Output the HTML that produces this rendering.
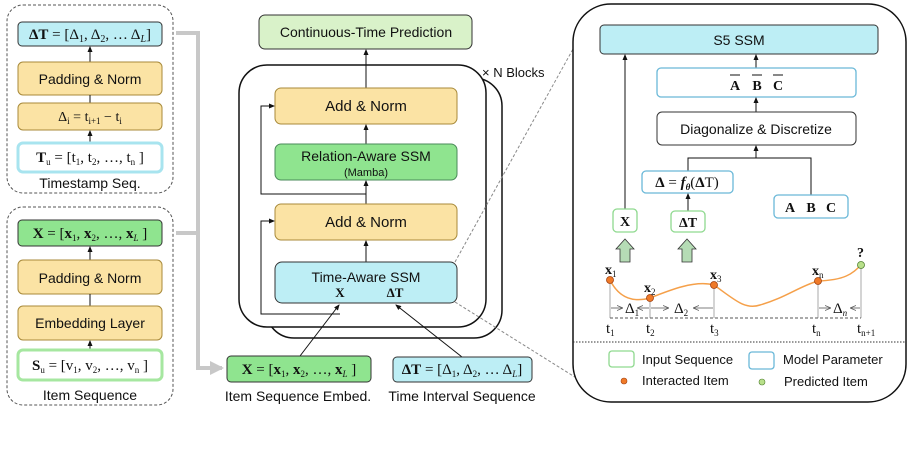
<!DOCTYPE html>
<html><head><meta charset="utf-8"><style>
html,body{margin:0;padding:0;background:#fff;}
svg{display:block;}
text{font-family:"Liberation Sans","DejaVu Sans",sans-serif;fill:#111;}
text.m,.m text{font-family:"Liberation Serif","DejaVu Serif",serif;}
</style></head><body>
<svg width="913" height="450" viewBox="0 0 913 450" xmlns="http://www.w3.org/2000/svg">
<defs>
<marker id="a" markerWidth="6" markerHeight="6" refX="5" refY="3" orient="auto" markerUnits="userSpaceOnUse"><path d="M0,0.5 L6,3 L0,5.5z" fill="#111"/></marker>
<marker id="ag" markerWidth="14" markerHeight="14" refX="12" refY="7" orient="auto" markerUnits="userSpaceOnUse"><path d="M0,0 L14,7 L0,14z" fill="#c8c8c8"/></marker>
<marker id="as" markerWidth="6" markerHeight="6" refX="5" refY="3" orient="auto" markerUnits="userSpaceOnUse"><path d="M0,0.5 L6,3 L0,5.5" fill="none" stroke="#555" stroke-width="0.8"/></marker>
</defs>

<!-- LEFT PANEL -->
<rect x="7" y="5" width="166" height="188" rx="16" fill="none" stroke="#555" stroke-dasharray="3,2"/>
<rect x="18" y="22" width="144" height="24" rx="4" fill="#bdeef5" stroke="#333"/>
<text x="90" y="39" text-anchor="middle" class="m" font-size="15"><tspan font-weight="bold">ΔT</tspan> = [Δ<tspan font-size="10" dy="3">1</tspan><tspan dy="-3">, Δ</tspan><tspan font-size="10" dy="3">2</tspan><tspan dy="-3">, … Δ</tspan><tspan font-size="10" dy="3" font-style="italic">L</tspan><tspan dy="-3">]</tspan></text>
<line x1="90" y1="62" x2="90" y2="47" stroke="#111" marker-end="url(#a)"/>
<rect x="18" y="62" width="144" height="33" rx="5" fill="#fbe3a4" stroke="#a88a3a"/>
<text x="90" y="84" text-anchor="middle" font-size="14">Padding &amp; Norm</text>
<line x1="90" y1="103" x2="90" y2="95" stroke="#111"/>
<rect x="18" y="103" width="144" height="27" rx="5" fill="#fbe3a4" stroke="#a88a3a"/>
<text x="90" y="121" text-anchor="middle" class="m" font-size="14">Δ<tspan font-size="9" dy="3">i</tspan><tspan dy="-3"> = t</tspan><tspan font-size="9" dy="3">i+1</tspan><tspan dy="-3"> − t</tspan><tspan font-size="9" dy="3">i</tspan></text>
<line x1="90" y1="143" x2="90" y2="131" stroke="#111" marker-end="url(#a)"/>
<rect x="18" y="143" width="144" height="29" rx="5" fill="#fff" stroke="#a8e4ef" stroke-width="3"/>
<text x="90" y="162" text-anchor="middle" class="m" font-size="15"><tspan font-weight="bold">T</tspan><tspan font-size="9" dy="3">u</tspan><tspan dy="-3"> = [t</tspan><tspan font-size="9" dy="3">1</tspan><tspan dy="-3">, t</tspan><tspan font-size="9" dy="3">2</tspan><tspan dy="-3">, …, t</tspan><tspan font-size="9" dy="3">n</tspan><tspan dy="-3"> ]</tspan></text>
<text x="90" y="188" text-anchor="middle" font-size="14">Timestamp Seq.</text>

<rect x="7" y="207" width="166" height="198" rx="16" fill="none" stroke="#555" stroke-dasharray="3,2"/>
<rect x="18" y="220" width="144" height="26" rx="4" fill="#8fe48f" stroke="#333"/>
<text x="90" y="238" text-anchor="middle" class="m" font-size="15"><tspan font-weight="bold">X</tspan> = [<tspan font-weight="bold">x</tspan><tspan font-size="9" dy="3">1</tspan><tspan dy="-3">, </tspan><tspan font-weight="bold">x</tspan><tspan font-size="9" dy="3">2</tspan><tspan dy="-3">, …, </tspan><tspan font-weight="bold">x</tspan><tspan font-size="9" dy="3" font-style="italic">L</tspan><tspan dy="-3"> ]</tspan></text>
<line x1="90" y1="260" x2="90" y2="247" stroke="#111" marker-end="url(#a)"/>
<rect x="18" y="260" width="144" height="34" rx="5" fill="#fbe3a4" stroke="#a88a3a"/>
<text x="90" y="283" text-anchor="middle" font-size="14">Padding &amp; Norm</text>
<line x1="90" y1="306" x2="90" y2="294" stroke="#111"/>
<rect x="18" y="306" width="144" height="34" rx="5" fill="#fbe3a4" stroke="#a88a3a"/>
<text x="90" y="328" text-anchor="middle" font-size="14">Embedding Layer</text>
<line x1="90" y1="350" x2="90" y2="341" stroke="#111" marker-end="url(#a)"/>
<rect x="18" y="350" width="144" height="30" rx="5" fill="#fff" stroke="#a6e7a0" stroke-width="3"/>
<text x="90" y="370" text-anchor="middle" class="m" font-size="15"><tspan font-weight="bold">S</tspan><tspan font-size="9" dy="3">u</tspan><tspan dy="-3"> = [v</tspan><tspan font-size="9" dy="3">1</tspan><tspan dy="-3">, v</tspan><tspan font-size="9" dy="3">2</tspan><tspan dy="-3">, …, v</tspan><tspan font-size="9" dy="3">n</tspan><tspan dy="-3"> ]</tspan></text>
<text x="90" y="400" text-anchor="middle" font-size="14">Item Sequence</text>

<polyline points="176,33 198,33 198,368 222,368" fill="none" stroke="#c8c8c8" stroke-width="4" marker-end="url(#ag)"/>
<line x1="176" y1="233" x2="198" y2="233" stroke="#c8c8c8" stroke-width="4"/>

<!-- CENTER -->
<rect x="259" y="15" width="213" height="34" rx="6" fill="#d9f2c9" stroke="#333"/>
<text x="366" y="37" text-anchor="middle" font-size="14">Continuous-Time Prediction</text>
<rect x="266" y="78" width="236" height="260" rx="28" fill="#fff" stroke="#111" stroke-width="1.5"/>
<rect x="239" y="65" width="247" height="262" rx="28" fill="#fff" stroke="#111" stroke-width="1.5"/>
<text x="482" y="77" font-size="13">× N Blocks</text>
<line x1="366" y1="88" x2="366" y2="50" stroke="#111" marker-end="url(#a)"/>
<rect x="275" y="88" width="182" height="36" rx="6" fill="#fbe3a4" stroke="#a88a3a"/>
<text x="366" y="111" text-anchor="middle" font-size="15">Add &amp; Norm</text>
<line x1="366" y1="144" x2="366" y2="125" stroke="#111" marker-end="url(#a)"/>
<rect x="275" y="144" width="182" height="36" rx="6" fill="#8fe48f" stroke="#4a8a5a"/>
<text x="366" y="161" text-anchor="middle" font-size="14">Relation-Aware SSM</text>
<text x="366" y="176" text-anchor="middle" font-size="11">(Mamba)</text>
<line x1="366" y1="204" x2="366" y2="181" stroke="#111" marker-end="url(#a)"/>
<polyline points="366,194 261,194 261,106 274,106" fill="none" stroke="#111" marker-end="url(#a)"/>
<rect x="275" y="204" width="182" height="36" rx="6" fill="#fbe3a4" stroke="#a88a3a"/>
<text x="366" y="227" text-anchor="middle" font-size="15">Add &amp; Norm</text>
<line x1="366" y1="262" x2="366" y2="241" stroke="#111" marker-end="url(#a)"/>
<polyline points="340,314 261,314 261,221 274,221" fill="none" stroke="#111" marker-end="url(#a)"/>
<rect x="275" y="262" width="182" height="41" rx="7" fill="#bdeef5" stroke="#333"/>
<text x="366" y="282" text-anchor="middle" font-size="14">Time-Aware SSM</text>
<text x="340" y="297" text-anchor="middle" class="m" font-size="13" font-weight="bold">X</text>
<text x="395" y="297" text-anchor="middle" class="m" font-size="13" font-weight="bold">ΔT</text>
<line x1="300" y1="356" x2="339" y2="305" stroke="#111" marker-end="url(#a)"/>
<line x1="462" y1="357" x2="396" y2="305" stroke="#111" marker-end="url(#a)"/>
<rect x="227" y="356" width="144" height="26" rx="4" fill="#8fe48f" stroke="#333"/>
<text x="299" y="374" text-anchor="middle" class="m" font-size="15"><tspan font-weight="bold">X</tspan> = [<tspan font-weight="bold">x</tspan><tspan font-size="9" dy="3">1</tspan><tspan dy="-3">, </tspan><tspan font-weight="bold">x</tspan><tspan font-size="9" dy="3">2</tspan><tspan dy="-3">, …, </tspan><tspan font-weight="bold">x</tspan><tspan font-size="9" dy="3" font-style="italic">L</tspan><tspan dy="-3"> ]</tspan></text>
<rect x="393" y="357" width="139" height="25" rx="4" fill="#bdeef5" stroke="#333"/>
<text x="462" y="374" text-anchor="middle" class="m" font-size="15"><tspan font-weight="bold">ΔT</tspan> = [Δ<tspan font-size="9" dy="3">1</tspan><tspan dy="-3">, Δ</tspan><tspan font-size="9" dy="3">2</tspan><tspan dy="-3">, … Δ</tspan><tspan font-size="9" dy="3" font-style="italic">L</tspan><tspan dy="-3">]</tspan></text>
<text x="298" y="401" text-anchor="middle" font-size="14">Item Sequence Embed.</text>
<text x="462" y="401" text-anchor="middle" font-size="14">Time Interval Sequence</text>

<line x1="455" y1="262" x2="578" y2="40" stroke="#888" stroke-dasharray="3,2"/>
<line x1="455" y1="302" x2="586" y2="384" stroke="#888" stroke-dasharray="3,2"/>

<!-- RIGHT PANEL -->
<rect x="573" y="4" width="333" height="398" rx="38" fill="#fff" stroke="#111" stroke-width="1.5"/>
<rect x="600" y="25" width="278" height="29" rx="4" fill="#bdeef5" stroke="#333"/>
<text x="739" y="45" text-anchor="middle" font-size="14">S5 SSM</text>
<line x1="756" y1="68" x2="756" y2="55" stroke="#111" marker-end="url(#a)"/>
<rect x="657" y="68" width="199" height="29" rx="4" fill="#fff" stroke="#6ab8d8" stroke-width="1.3"/>
<text class="m" x="735" y="90" font-size="14" font-weight="bold" text-anchor="middle">A</text>
<text class="m" x="757" y="90" font-size="14" font-weight="bold" text-anchor="middle">B</text>
<text class="m" x="778" y="90" font-size="14" font-weight="bold" text-anchor="middle">C</text>
<line x1="730" y1="75" x2="740" y2="75" stroke="#111"/>
<line x1="752" y1="75" x2="762" y2="75" stroke="#111"/>
<line x1="773" y1="75" x2="783" y2="75" stroke="#111"/>
<line x1="756" y1="112" x2="756" y2="98" stroke="#111" marker-end="url(#a)"/>
<rect x="657" y="112" width="199" height="33" rx="5" fill="#fff" stroke="#333"/>
<text x="756" y="134" text-anchor="middle" font-size="14">Diagonalize &amp; Discretize</text>
<polyline points="688,171 688,158 811,158 811,195" fill="none" stroke="#111"/>
<line x1="756" y1="158" x2="756" y2="146" stroke="#111" marker-end="url(#a)"/>
<rect x="642" y="171" width="91" height="22" rx="4" fill="#fff" stroke="#6ab8d8" stroke-width="1.3"/>
<text x="687" y="187" text-anchor="middle" class="m" font-size="15"><tspan font-weight="bold">Δ</tspan> = <tspan font-weight="bold" font-style="italic">f</tspan><tspan font-size="9" dy="3" font-style="italic" font-weight="bold">θ</tspan><tspan dy="-3">(</tspan><tspan font-weight="bold">Δ</tspan>T)</text>
<rect x="774" y="195" width="74" height="23" rx="4" fill="#fff" stroke="#6ab8d8" stroke-width="1.3"/>
<text class="m" x="790" y="212" font-size="14" font-weight="bold" text-anchor="middle">A</text>
<text class="m" x="811" y="212" font-size="14" font-weight="bold" text-anchor="middle">B</text>
<text class="m" x="831" y="212" font-size="14" font-weight="bold" text-anchor="middle">C</text>
<line x1="625" y1="209" x2="625" y2="55" stroke="#111" marker-end="url(#a)"/>
<line x1="688" y1="211" x2="688" y2="194" stroke="#111" marker-end="url(#a)"/>
<rect x="613" y="209" width="24" height="23" rx="4" fill="#fff" stroke="#8fd98f" stroke-width="1.3"/>
<text x="625" y="226" text-anchor="middle" class="m" font-size="14" font-weight="bold">X</text>
<rect x="671" y="211" width="34" height="21" rx="4" fill="#fff" stroke="#8fd98f" stroke-width="1.3"/>
<text x="688" y="227" text-anchor="middle" class="m" font-size="14" font-weight="bold">ΔT</text>
<path d="M620,262 L620,249 L616,249 L625,239 L634,249 L630,249 L630,262z" fill="#b5dcb5" stroke="#333" stroke-width="0.8"/>
<path d="M682,262 L682,249 L678,249 L687,239 L696,249 L692,249 L692,262z" fill="#b5dcb5" stroke="#333" stroke-width="0.8"/>

<g stroke="#aaa" stroke-width="1">
<line x1="610" y1="280" x2="610" y2="318"/><line x1="650" y1="298" x2="650" y2="318"/>
<line x1="714" y1="285" x2="714" y2="318"/><line x1="818" y1="281" x2="818" y2="318"/>
<line x1="861" y1="265" x2="861" y2="318"/>
</g>
<line x1="610" y1="318" x2="861" y2="318" stroke="#555" stroke-dasharray="3,2"/>
<path d="M610,280 C620,300 635,302 650,298 C670,290 695,280 714,285 C735,300 745,310 760,305 C785,298 800,286 818,281 C845,280 852,274 861,265" fill="none" stroke="#f5a04a" stroke-width="1.5"/>
<g fill="#f07a28" stroke="#a04010" stroke-width="0.8">
<circle cx="610" cy="280" r="3.5"/><circle cx="650" cy="298" r="3.5"/><circle cx="714" cy="285" r="3.5"/><circle cx="818" cy="281" r="3.5"/>
</g>
<circle cx="861" cy="265" r="3.5" fill="#b8e08a" stroke="#508030" stroke-width="0.8"/>
<g class="m" font-size="14" font-weight="bold">
<text x="605" y="274">x<tspan font-size="9" dy="3" font-weight="normal">1</tspan></text>
<text x="644" y="292">x<tspan font-size="9" dy="3" font-weight="normal">2</tspan></text>
<text x="710" y="279">x<tspan font-size="9" dy="3" font-weight="normal">3</tspan></text>
<text x="812" y="275">x<tspan font-size="9" dy="3" font-weight="normal">n</tspan></text>
<text x="857" y="257">?</text>
</g>
<g stroke="#555" stroke-width="0.8">
<line x1="611" y1="308" x2="622" y2="308" marker-end="url(#as)"/>
<line x1="649" y1="308" x2="638" y2="308" marker-end="url(#as)"/>
<line x1="651" y1="308" x2="668" y2="308" marker-end="url(#as)"/>
<line x1="713" y1="308" x2="694" y2="308" marker-end="url(#as)"/>
<line x1="819" y1="308" x2="830" y2="308" marker-end="url(#as)"/>
<line x1="860" y1="308" x2="851" y2="308" marker-end="url(#as)"/>
</g>
<g class="m" font-size="15">
<text x="625" y="313">Δ<tspan font-size="9" dy="3">1</tspan></text>
<text x="674" y="313">Δ<tspan font-size="9" dy="3">2</tspan></text>
<text x="833" y="313">Δ<tspan font-size="9" dy="3" font-style="italic">n</tspan></text>
<text x="606" y="333">t<tspan font-size="9" dy="3">1</tspan></text>
<text x="646" y="333">t<tspan font-size="9" dy="3">2</tspan></text>
<text x="710" y="333">t<tspan font-size="9" dy="3">3</tspan></text>
<text x="812" y="333">t<tspan font-size="9" dy="3">n</tspan></text>
<text x="857" y="333">t<tspan font-size="9" dy="3">n+1</tspan></text>
</g>
<line x1="573" y1="342" x2="906" y2="342" stroke="#333" stroke-dasharray="1.5,1.5"/>
<rect x="609" y="351" width="25" height="16" rx="3" fill="#fff" stroke="#8fd98f" stroke-width="1.3"/>
<text x="642" y="364" font-size="13">Input Sequence</text>
<rect x="749" y="352" width="25" height="17" rx="3" fill="#fff" stroke="#6ab8d8" stroke-width="1.3"/>
<text x="783" y="364" font-size="13">Model Parameter</text>
<circle cx="624" cy="381" r="3" fill="#f07a28" stroke="#a04010" stroke-width="0.6"/>
<text x="642" y="385" font-size="13">Interacted Item</text>
<circle cx="762" cy="382" r="3" fill="#b8e08a" stroke="#508030" stroke-width="0.6"/>
<text x="784" y="386" font-size="13">Predicted Item</text>
</svg>
</body></html>
